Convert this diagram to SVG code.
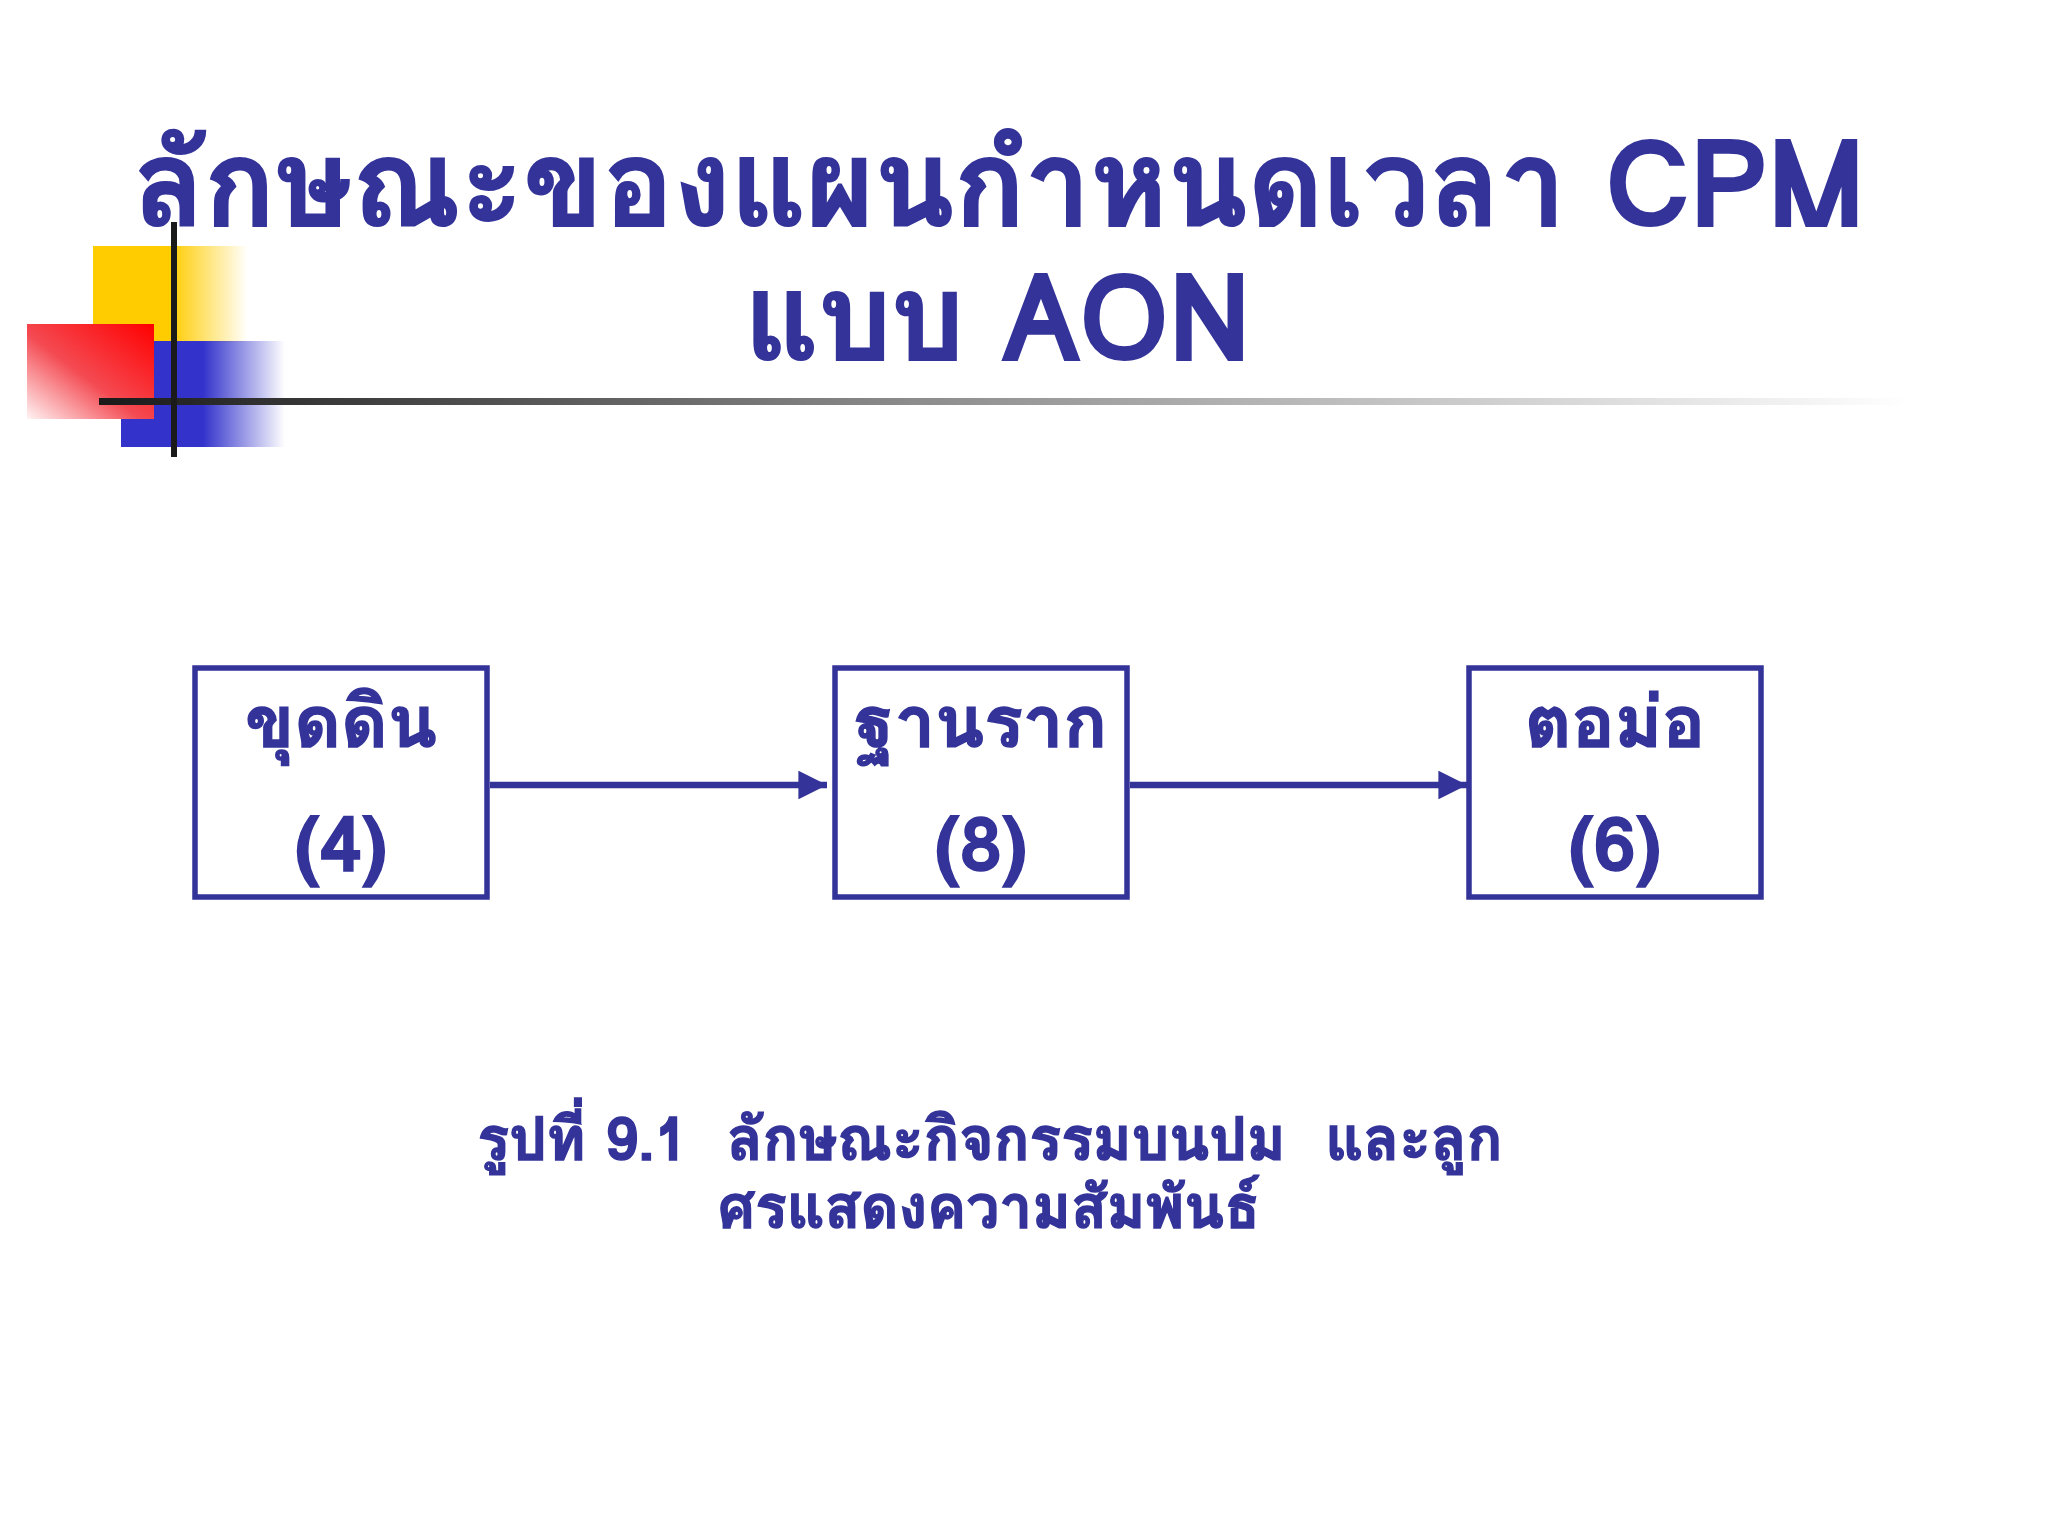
<svg xmlns="http://www.w3.org/2000/svg" width="2048" height="1536" viewBox="0 0 2048 1536">
  <defs>
    <linearGradient id="gYellow" x1="0" y1="0" x2="1" y2="0">
      <stop offset="0" stop-color="#FFCC00"/>
      <stop offset="0.5" stop-color="#FFCC00"/>
      <stop offset="1" stop-color="#FFCC00" stop-opacity="0"/>
    </linearGradient>
    <linearGradient id="gBlue" x1="0" y1="0" x2="1" y2="0">
      <stop offset="0" stop-color="#3333CC"/>
      <stop offset="0.5" stop-color="#3333CC"/>
      <stop offset="1" stop-color="#3333CC" stop-opacity="0"/>
    </linearGradient>
    <linearGradient id="gRed" x1="1" y1="0" x2="0" y2="1">
      <stop offset="0" stop-color="#FF0000"/>
      <stop offset="0.55" stop-color="#F44A52"/>
      <stop offset="1" stop-color="#FFF4F4"/>
    </linearGradient>
    <linearGradient id="gLine" gradientUnits="userSpaceOnUse" x1="99" y1="0" x2="1907" y2="0">
      <stop offset="0" stop-color="#1A1A1A"/>
      <stop offset="0.45" stop-color="#8C8C8C"/>
      <stop offset="1" stop-color="#FFFFFF"/>
    </linearGradient>
    <marker id="arrow" viewBox="0 0 10 10" refX="10" refY="5" markerWidth="4.4" markerHeight="4.4" orient="auto" markerUnits="strokeWidth">
      <path d="M0,0 L10,5 L0,10 Z" fill="#333399"/>
    </marker>
  </defs>
  <style>
    .t { fill:#333399; stroke:#333399; stroke-width:1.5; font-family:Tahoma, Loma, "Noto Sans Thai Looped", "Noto Sans Thai", "Noto Sans", "DejaVu Sans", sans-serif; font-weight:bold; text-anchor:middle; }
    .title { font-size:118px; stroke-width:2; }
    .lbl { font-size:72px; }
    .num { font-size:76px; }
    .cap { font-size:60px; white-space:pre; }
    .box { fill:#FFFFFF; stroke:#333399; stroke-width:5.5; }
    .conn { stroke:#333399; stroke-width:6.5; fill:none; marker-end:url(#arrow); }
  </style>
  <rect width="2048" height="1536" fill="#FFFFFF"/>

  <g id="decoration">
    <rect x="93" y="246" width="155" height="96" fill="url(#gYellow)"/>
    <rect x="121" y="341" width="164" height="106" fill="url(#gBlue)"/>
    <rect x="27" y="324" width="127" height="95" fill="url(#gRed)"/>
    <rect x="99" y="398" width="1808" height="7" fill="url(#gLine)"/>
    <rect x="171" y="222" width="6" height="235" fill="#1A1A1A"/>
  </g>

  <g id="title">
    <text class="t title" x="999" y="225" textLength="1732" lengthAdjust="spacingAndGlyphs">ลักษณะของแผนกำหนดเวลา CPM</text>
    <text class="t title" x="998" y="359" textLength="507" lengthAdjust="spacingAndGlyphs">แบบ AON</text>
  </g>

  <g id="connectors">
    <line class="conn" x1="490" y1="785" x2="827" y2="785"/>
    <line class="conn" x1="1130" y1="785" x2="1467" y2="785"/>
  </g>

  <g id="node1">
    <rect class="box" x="195" y="668" width="292" height="229"/>
    <text class="t lbl" x="341" y="747">ขุดดิน</text>
    <text class="t num" x="341" y="871">(4)</text>
  </g>
  <g id="node2">
    <rect class="box" x="835" y="668" width="292" height="229"/>
    <text class="t lbl" x="981" y="747">ฐานราก</text>
    <text class="t num" x="981" y="871">(8)</text>
  </g>
  <g id="node3">
    <rect class="box" x="1469" y="668" width="292" height="229"/>
    <text class="t lbl" x="1615" y="747">ตอม่อ</text>
    <text class="t num" x="1615" y="871">(6)</text>
  </g>

  <g id="caption">
    <text class="t cap" x="990" y="1160" textLength="1025" lengthAdjust="spacingAndGlyphs">รูปที่ 9.1  ลักษณะกิจกรรมบนปม  และลูก</text>
    <text class="t cap" x="989" y="1228" textLength="542" lengthAdjust="spacingAndGlyphs">ศรแสดงความสัมพันธ์</text>
  </g>
</svg>
